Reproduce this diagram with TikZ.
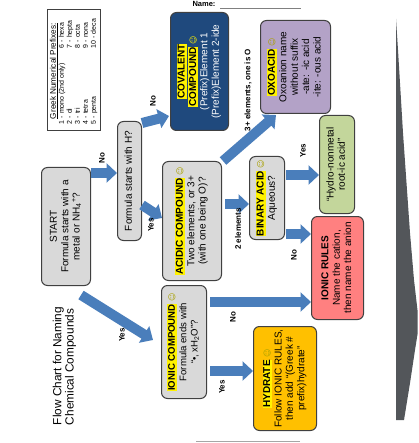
\documentclass[tikz,border=0pt]{standalone}
\usepackage{fontspec}
\setmainfont{Liberation Sans}
\newfontfamily\smfont{DejaVu Sans}
\usetikzlibrary{arrows.meta}
\definecolor{boxgray}{HTML}{D9D9D9}
\definecolor{boxedge}{HTML}{404040}
\definecolor{flowblue}{HTML}{4A7EBB}
\definecolor{covblue}{HTML}{1F497D}
\definecolor{oxopurple}{HTML}{B3A2C7}
\definecolor{hydrogreen}{HTML}{C3D69B}
\definecolor{rulesred}{HTML}{FF8080}
\definecolor{hydrateamber}{HTML}{FFC000}
\definecolor{shadowgray}{HTML}{53565A}
\definecolor{smileolive}{HTML}{A8A000}
\newcommand{\hlt}[1]{{\setlength{\fboxsep}{0pt}\colorbox{yellow}{\rule[-2pt]{0pt}{9.6pt}\textbf{#1}}}}
\newcommand{\smly}{{\smfont\fontsize{8pt}{8pt}\selectfont ☺}}
\newcommand{\vtext}[2][10pt]{\rotatebox{90}{\fontsize{#1}{11.4pt}\selectfont\begin{tabular}{@{}c@{}}#2\end{tabular}}}
\tikzset{
  x=1pt,y=-1pt,
  flowbox/.style={draw=boxedge,line width=1pt,rounded corners=6pt,inner sep=0pt,anchor=north west,fill=boxgray},
  flow/.style={draw=flowblue,line width=10pt,-{Triangle[length=10.5pt,width=19pt,fill=flowblue]}},
  tag/.style={font=\bfseries\fontsize{8pt}{9pt}\selectfont,rotate=90,inner sep=0pt},
}
\newcommand{\fbx}[7][boxgray]{% fill, name, x0, y0, x1, y1, text
  \node[flowbox,fill=#1,minimum width=\dimexpr#5pt-#3pt\relax,minimum height=\dimexpr#6pt-#4pt\relax] (#2) at (#3,#4) {#7};}
\begin{document}
\begin{tikzpicture}
\useasboundingbox (0,0) rectangle (418,443);
% page shadow and page marks
\fill[shadowgray] (396,19) -- (398,50) -- (403,133) -- (410,233) -- (414,280) -- (417.7,312) -- (417.7,333) -- (415,350) -- (410,383) -- (404,420) -- (396,420) -- cycle;
\node[font=\bfseries\fontsize{7.5pt}{8pt}\selectfont,inner sep=0pt] (namelabel) at (204,4) {Name:};
\coordinate (nameA) at (220,8);
\coordinate (nameB) at (301,8);
\draw[gray,line width=0.5pt] (nameA) -- (nameB);
\coordinate (footA) at (196,441);
\coordinate (footB) at (300,441);
\draw[gray!70,line width=0.7pt] (footA) -- (footB);
% title
\node[inner sep=0pt] (title) at (65,366) {\rotatebox{90}{\fontsize{11.8pt}{12.4pt}\selectfont\begin{tabular}{@{}l@{}}Flow Chart for Naming\\Chemical Compounds\end{tabular}}};
% prefix table
\node[draw=boxedge,line width=1pt,fill=white,anchor=north west,inner sep=0pt,minimum width=53pt,minimum height=121pt] (greek) at (47,9) {\rotatebox{90}{\fontsize{7pt}{8pt}\selectfont\begin{tabular}{@{}l@{}l@{}}
\multicolumn{2}{@{}l@{}}{\hspace{5pt}\fontsize{8.2pt}{9pt}\selectfont\underline{Greek Numerical Prefixes:}}\\
\makebox[76pt][l]{1 - mono (2nd only)} & 6 - hexa\\
2 - di & 7 - hepta\\
3 - tri & 8 - octa\\
4 - tetra & 9 - nona\\
5 - penta & 10 - deca
\end{tabular}\hspace{3pt}}};
% boxes
\fbx{start}{41}{167}{90}{285}{\vtext{START\\Formula starts with a\\metal or NH\textsubscript{4}\textsuperscript{+}?}}
\fbx{formula}{117}{121}{141}{240}{\vtext{Formula starts with H?}}
\fbx[covblue]{covalent}{170}{12}{228}{130}{\vtext{\hlt{\textcolor{black}{COVALENT}}\\\hlt{\textcolor{black}{COMPOUND}} \textcolor{yellow}{\smly}\\\textcolor{white}{(Prefix)Element 1}\\\textcolor{white}{(Prefix)Element 2-ide}}}
\fbx{acidic}{162}{161}{221}{280}{\vtext{\hlt{ACIDIC COMPOUND} \textcolor{smileolive}{\smly}\\Two elements, or 3+\\(with one being O)?}}
\fbx{ionic}{161}{285}{206}{398}{\vtext[9.6pt]{\hlt{IONIC COMPOUND} \textcolor{smileolive}{\smly}\\Formula ends with\\“•, xH\textsubscript{2}O”?}}
\fbx{binary}{249}{156}{284}{239}{\vtext{\hlt{BINARY ACID} \textcolor{smileolive}{\smly}\\Aqueous?}}
\fbx[oxopurple]{oxoacid}{260}{20}{330}{113}{\vtext{\hlt{OXOACID} \textcolor{smileolive}{\smly}\\Oxoanion name\\without suffix\\-ate: -ic acid\\-ite: -ous acid}}
\fbx[hydrogreen]{hydro}{319}{115}{354}{213}{\vtext{“Hydro-nonmetal\\root-ic acid”}}
\fbx[rulesred]{rules}{311}{216}{363}{319}{\vtext{\textbf{IONIC RULES}\\Name the cation,\\then name the anion}}
\fbx[hydrateamber]{hydrate}{253}{326}{316}{430}{\vtext{\hlt{HYDRATE} \textcolor{smileolive}{\smly}\\Follow IONIC RULES,\\then add “(Greek \#\\prefix)hydrate”}}
% connectors
\draw[flow] (start.east |- 0,173) -- (formula.west |- 0,173);
\draw[flow] ([yshift=-2pt]formula.north east) -- ([xshift=-1pt,yshift=15pt]covalent.south west);
\draw[flow] (formula.east |- 0,205) -- (acidic.west |- 0,218);
\draw[flow] ([xshift=-10pt,yshift=-9pt]start.south east) -- ([xshift=-8pt,yshift=-55pt]ionic.north west);
\draw[flow] ([xshift=1pt]acidic.north east) -- ([xshift=16pt,yshift=-1pt]oxoacid.south west);
\draw[flow] ([xshift=3pt]acidic.east |- 0,204) -- (binary.west |- 0,204);
\draw[flow] ([xshift=1pt]binary.east |- 0,175) -- (hydro.west |- 0,175);
\draw[flow] ([xshift=1pt]binary.east |- 0,234) -- (rules.west |- 0,234);
\draw[flow] ([xshift=3pt]ionic.east |- 0,302) -- (rules.west |- 0,302);
\draw[flow] ([xshift=3pt]ionic.east |- 0,371) -- (hydrate.west |- 0,371);
% connector labels
\node[tag] (l1) at (102,158) {No};
\node[tag] (l2) at (153,101) {No};
\node[tag] (l3) at (151,225) {Yes};
\node[tag] (l4) at (122,335) {Yes};
\node[tag] (l5) at (233,317) {No};
\node[tag] (l6) at (222,387) {Yes};
\node[tag] (l7) at (238,229) {2 elements};
\node[tag] (l8) at (248,90) {3+ elements, one is O};
\node[tag] (l9) at (303,151) {Yes};
\node[tag] (l10) at (294,255) {No};
\end{tikzpicture}
\end{document}
